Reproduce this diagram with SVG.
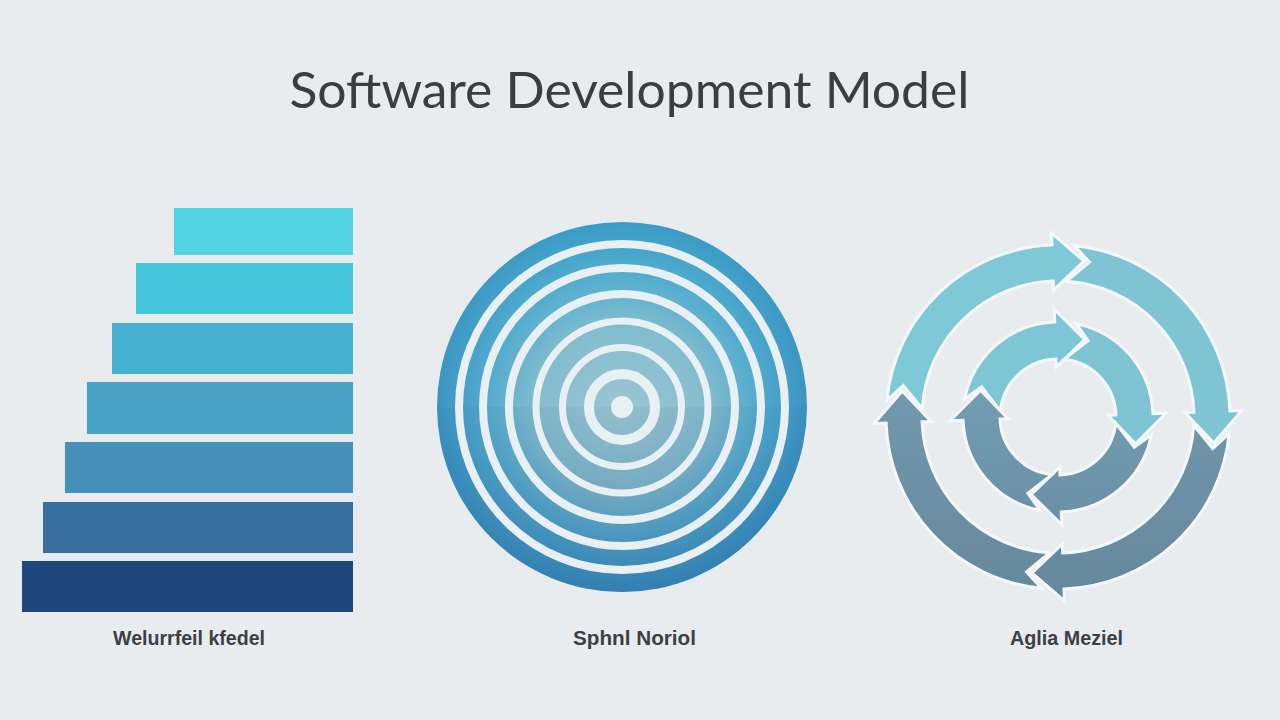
<svg xmlns="http://www.w3.org/2000/svg" width="1280" height="720" viewBox="0 0 1280 720">
  <defs>
    <style>
      .title { font-family: "Lato", "Liberation Sans", sans-serif; font-size: 50px; fill: #3a3d42; }
      .label { font-family: "Liberation Sans", Arial, sans-serif; font-weight: bold; font-size: 21px; fill: #3c3f44; }
      .ring { fill: none; stroke: #e9f0f4; }
      .arrow { stroke: #f5f8fa; stroke-width: 3; stroke-linejoin: miter; }
    </style>
    <radialGradient id="spiralRad" cx="622" cy="407" r="185" gradientUnits="userSpaceOnUse">
      <stop offset="0" stop-color="#9cc6d2"/>
      <stop offset="0.45" stop-color="#86bccd"/>
      <stop offset="0.72" stop-color="#55abcd"/>
      <stop offset="1" stop-color="#3b94c2"/>
    </radialGradient>
    <linearGradient id="spiralShade" x1="0" y1="222" x2="0" y2="592" gradientUnits="userSpaceOnUse">
      <stop offset="0" stop-color="#3cc0dc" stop-opacity="0.18"/>
      <stop offset="0.5" stop-color="#3cc0dc" stop-opacity="0"/>
      <stop offset="0.5" stop-color="#1d4f8a" stop-opacity="0.06"/>
      <stop offset="1" stop-color="#1d4f8a" stop-opacity="0.3"/>
    </linearGradient>
    <linearGradient id="slate" x1="0" y1="400" x2="0" y2="600" gradientUnits="userSpaceOnUse">
      <stop offset="0" stop-color="#7198ad"/>
      <stop offset="1" stop-color="#66879c"/>
    </linearGradient>
    <linearGradient id="slateIn" x1="0" y1="400" x2="0" y2="525" gradientUnits="userSpaceOnUse">
      <stop offset="0" stop-color="#729cb1"/>
      <stop offset="1" stop-color="#6a90a6"/>
    </linearGradient>
  </defs>

  <rect width="1280" height="720" fill="#e9ecef"/>

  <text class="title" x="629.5" y="108" text-anchor="middle" textLength="680" lengthAdjust="spacingAndGlyphs">Software Development Model</text>

  <g id="waterfall">
    <rect x="174" y="208" width="179" height="47" fill="#52d3e4"/>
    <rect x="136" y="263" width="217" height="51" fill="#45c5dc"/>
    <rect x="112" y="323" width="241" height="51" fill="#46b0d0"/>
    <rect x="87" y="382" width="266" height="52" fill="#48a3c7"/>
    <rect x="65" y="442" width="288" height="51" fill="#468fbb"/>
    <rect x="43" y="502" width="310" height="51" fill="#376fa1"/>
    <rect x="22" y="561" width="331" height="51" fill="#1f477d"/>
  </g>

  <g id="spiral">
    <circle cx="622" cy="407" r="185" fill="url(#spiralRad)"/>
    <circle cx="622" cy="407" r="185" fill="url(#spiralShade)"/>
    <circle class="ring" cx="622" cy="407" r="163" stroke-width="8"/>
    <circle class="ring" cx="622" cy="407" r="139" stroke-width="8"/>
    <circle class="ring" cx="622" cy="407" r="113" stroke-width="8"/>
    <circle class="ring" cx="622" cy="407" r="86" stroke-width="7"/>
    <circle class="ring" cx="622" cy="407" r="59.5" stroke-width="7"/>
    <circle class="ring" cx="622" cy="407" r="33" stroke-width="10"/>
    <circle cx="622" cy="407" r="11" fill="#e9f0f4"/>
  </g>

  <g id="agile">
    <path class="arrow" fill="#7ec8d8" d="M 886.8,400.5 A 172 172 0 0 1 1052.0,245.1 L 1051.6,233.1 L 1084.1,261.2 L 1053.6,290.1 L 1053.3,281.1 A 136 136 0 0 0 922.3,408.7 L 903.2,385.5 Z"/>
    <path class="arrow" fill="#7fc4d4" d="M 1074.5,245.8 A 172 172 0 0 1 1229.9,411.0 L 1241.9,410.6 L 1213.8,443.1 L 1184.9,412.6 L 1193.9,412.3 A 136 136 0 0 0 1066.3,281.3 L 1089.5,262.2 Z"/>
    <path class="arrow" fill="url(#slate)" d="M 1229.2,433.5 A 172 172 0 0 1 1064.0,588.9 L 1064.4,600.9 L 1031.9,572.8 L 1062.4,543.9 L 1062.7,552.9 A 136 136 0 0 0 1193.7,425.3 L 1212.8,448.5 Z"/>
    <path class="arrow" fill="url(#slate)" d="M 1041.5,588.2 A 172 172 0 0 1 886.1,423.0 L 874.1,423.4 L 902.2,390.9 L 931.1,421.4 L 922.1,421.7 A 136 136 0 0 0 1049.7,552.7 L 1026.5,571.8 Z"/>

    <path class="arrow" fill="#7dc6d6" d="M 964.7,398.9 A 95 95 0 0 1 1054.7,322.1 L 1054.2,309.1 L 1084.7,339.5 L 1056.3,367.0 L 1056.0,359.0 A 58 58 0 0 0 1000.3,410.9 L 981.7,386.9 Z"/>
    <path class="arrow" fill="#7ec3d3" d="M 1076.1,323.7 A 95 95 0 0 1 1152.9,413.7 L 1165.9,413.2 L 1135.5,443.7 L 1108.0,415.3 L 1116.0,415.0 A 58 58 0 0 0 1064.1,359.3 L 1088.1,340.7 Z"/>
    <path class="arrow" fill="url(#slateIn)" d="M 1151.3,435.1 A 95 95 0 0 1 1061.3,511.9 L 1061.8,524.9 L 1031.3,494.5 L 1059.7,467.0 L 1060.0,475.0 A 58 58 0 0 0 1115.7,423.1 L 1134.3,447.1 Z"/>
    <path class="arrow" fill="url(#slateIn)" d="M 1039.9,510.3 A 95 95 0 0 1 963.1,420.3 L 950.1,420.8 L 980.5,390.3 L 1008.0,418.7 L 1000.0,419.0 A 58 58 0 0 0 1051.9,474.7 L 1027.9,493.3 Z"/>
  </g>

  <g id="labels">
    <text class="label" x="189" y="645" text-anchor="middle" textLength="152" lengthAdjust="spacingAndGlyphs">Welurrfeil kfedel</text>
    <text class="label" x="634.5" y="645" text-anchor="middle" textLength="123" lengthAdjust="spacingAndGlyphs">Sphnl Noriol</text>
    <text class="label" x="1066.5" y="645" text-anchor="middle" textLength="113" lengthAdjust="spacingAndGlyphs">Aglia Meziel</text>
  </g>
</svg>
